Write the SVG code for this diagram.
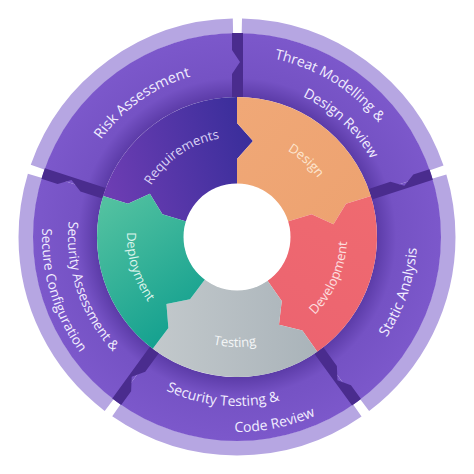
<svg xmlns="http://www.w3.org/2000/svg" width="474" height="474" viewBox="0 0 474 474">
<style>
.outer{fill:url(#gPurple)}
.div{fill:#4a2c8e}
.tout{font-family:'Open Sans','Noto Sans',sans-serif;font-size:14.5px;fill:#f2eeff}
.tin{font-family:'Open Sans','Noto Sans',sans-serif;font-size:13px}
</style>
<defs>
<radialGradient id="gPurple" gradientUnits="userSpaceOnUse" cx="237" cy="237" r="204">
<stop offset="0.68" stop-color="#5a3aa6"/>
<stop offset="0.78" stop-color="#7552c4"/>
<stop offset="1" stop-color="#7c58cb"/>
</radialGradient>
<linearGradient id="gReq" gradientUnits="userSpaceOnUse" x1="105" y1="180" x2="250" y2="140">
<stop offset="0" stop-color="#6d3db3"/>
<stop offset="1" stop-color="#3a2e9b"/>
</linearGradient>
<linearGradient id="gDes" gradientUnits="userSpaceOnUse" x1="240" y1="100" x2="370" y2="220">
<stop offset="0" stop-color="#f0a877"/>
<stop offset="1" stop-color="#eda270"/>
</linearGradient>
<linearGradient id="gDev" gradientUnits="userSpaceOnUse" x1="370" y1="200" x2="290" y2="340">
<stop offset="0" stop-color="#ef6a70"/>
<stop offset="1" stop-color="#ec6470"/>
</linearGradient>
<linearGradient id="gTest" gradientUnits="userSpaceOnUse" x1="150" y1="300" x2="320" y2="300">
<stop offset="0" stop-color="#c3c9cc"/>
<stop offset="1" stop-color="#a9b3b9"/>
</linearGradient>
<linearGradient id="gDep" gradientUnits="userSpaceOnUse" x1="110" y1="200" x2="200" y2="320">
<stop offset="0" stop-color="#52c1a0"/>
<stop offset="1" stop-color="#13a08f"/>
</linearGradient>
<path id="c167" d="M 237 404 A 167 167 0 1 1 237 70 A 167 167 0 1 1 237 404"/>
<path id="c182" d="M 237 419 A 182 182 0 1 1 237 55 A 182 182 0 1 1 237 419"/>
<path id="c155" d="M 237 392 A 155 155 0 1 1 237 82 A 155 155 0 1 1 237 392"/>
<path id="c100" d="M 237 337 A 100 100 0 1 1 237 137 A 100 100 0 1 1 237 337"/>
<path id="a180" d="M 237 57 A 180 180 0 1 0 237 417 A 180 180 0 1 0 237 57"/>
<path id="a169" d="M 237 68 A 169 169 0 1 0 237 406 A 169 169 0 1 0 237 68"/>
<path id="a195" d="M 237 42 A 195 195 0 1 0 237 432 A 195 195 0 1 0 237 42"/>
<path id="a110" d="M 237 127 A 110 110 0 1 0 237 347 A 110 110 0 1 0 237 127"/>
</defs>
<rect width="474" height="474" fill="#ffffff"/>
<g id="lavender-ring">
<circle cx="237" cy="237" r="211" fill="none" stroke="#b6a6e2" stroke-width="15" stroke-dasharray="256.15 9" stroke-dashoffset="61.79"/>
</g>
<g id="risk-assessment">
<path class="outer" d="M 42.98 173.96 A 204 204 0 0 1 237 33 L 237 97 A 140 140 0 0 0 103.85 193.74 Z"/>
<text class="tout" text-anchor="middle"><textPath href="#c167" startOffset="40.2%">Risk Assessment</textPath></text>
</g>
<g id="threat-modelling">
<path class="outer" d="M 237 33 A 204 204 0 0 1 431.02 173.96 L 370.15 193.74 A 140 140 0 0 0 237 97 Z"/>
<text class="tout" text-anchor="middle" style="font-size:14px"><textPath href="#c182" startOffset="58.75%">Threat Modelling &amp;</textPath></text>
<text class="tout" text-anchor="middle" style="font-size:14px"><textPath href="#c155" startOffset="61.8%">Design Review</textPath></text>
</g>
<g id="static-analysis">
<path class="outer" d="M 431.02 173.96 A 204 204 0 0 1 356.91 402.04 L 319.29 350.26 A 140 140 0 0 0 370.15 193.74 Z"/>
<text class="tout" text-anchor="middle"><textPath href="#a180" startOffset="69.8%">Static Analysis</textPath></text>
</g>
<g id="security-testing">
<path class="outer" d="M 356.91 402.04 A 204 204 0 0 1 117.09 402.04 L 154.71 350.26 A 140 140 0 0 0 319.29 350.26 Z"/>
<text class="tout" text-anchor="middle" style="font-size:14px"><textPath href="#a169" startOffset="48.6%">Security Testing &amp;</textPath></text>
<text class="tout" text-anchor="middle" style="font-size:14px"><textPath href="#a195" startOffset="53.2%">Code Review</textPath></text>
</g>
<g id="security-assessment">
<path class="outer" d="M 117.09 402.04 A 204 204 0 0 1 42.98 173.96 L 103.85 193.74 A 140 140 0 0 0 154.71 350.26 Z"/>
<text class="tout" text-anchor="middle" style="font-size:13.5px"><textPath href="#a169" startOffset="30.2%">Security Assessment &amp;</textPath></text>
<text class="tout" text-anchor="middle" style="font-size:13.5px"><textPath href="#a195" startOffset="29.7%">Secure Configuration</textPath></text>
</g>
<g id="dividers">
<polygon class="div" points="232,97 232,74 240,62 232,50 232,33 243,33 243,97"/>
<polygon class="div" points="368.60,188.98 390.48,181.87 404.37,185.77 413.31,174.46 429.47,169.20 432.87,179.67 372.00,199.45"/>
<polygon class="div" points="323.34,347.32 336.86,365.93 337.44,380.34 350.97,385.34 360.96,399.10 352.06,405.57 314.44,353.79"/>
<polygon class="div" points="158.76,353.20 145.24,371.81 131.70,376.82 131.13,391.22 121.14,404.98 112.24,398.51 149.86,346.73"/>
<polygon class="div" points="102.30,198.50 80.42,191.39 71.49,180.07 57.59,183.98 41.43,178.72 44.83,168.25 105.70,188.03"/>
</g>
<g id="requirements">
<path fill="url(#gReq)" d="M 186.32 221.50 L 162.41 214.19 L 149.88 193.63 L 127.98 203.67 L 103.12 196.06 A 140 140 0 0 1 237 97 L 237 123 L 253 141 L 237 159 L 237 184 A 53 53 0 0 0 186.32 221.50 Z"/>
<text class="tin" text-anchor="middle" fill="#ddd4f6"><textPath href="#c100" startOffset="40.4%">Requirements</textPath></text>
</g>
<g id="design">
<path fill="url(#gDes)" d="M 237 184 L 237 159 L 253 141 L 237 123 L 237 97 A 140 140 0 0 1 370.88 196.06 L 346.02 203.67 L 333.48 224.23 L 311.59 214.19 L 287.68 221.50 A 53 53 0 0 0 237 184 Z"/>
<text class="tin" text-anchor="middle" fill="#fde5cf"><textPath href="#c100" startOffset="61.7%">Design</textPath></text>
</g>
<g id="development">
<path fill="url(#gDev)" d="M 287.68 221.50 L 311.59 214.19 L 333.48 224.23 L 346.02 203.67 L 370.88 196.06 A 140 140 0 0 1 317.30 351.69 L 302.39 330.39 L 278.96 324.82 L 281.74 300.90 L 267.40 280.42 A 53 53 0 0 0 287.68 221.50 Z"/>
<text class="tin" text-anchor="middle" fill="#fde0e1"><textPath href="#a110" startOffset="68.4%">Development</textPath></text>
</g>
<g id="testing">
<path fill="url(#gTest)" d="M 267.40 280.42 L 281.74 300.90 L 278.96 324.82 L 302.39 330.39 L 317.30 351.69 A 140 140 0 0 1 152.75 348.80 L 168.39 328.04 L 166.45 304.04 L 190.06 299.29 L 205.10 279.33 A 53 53 0 0 0 267.40 280.42 Z"/>
<text class="tin" text-anchor="middle" fill="#f4f6f7"><textPath href="#a110" startOffset="49.7%">Testing</textPath></text>
</g>
<g id="deployment">
<path fill="url(#gDep)" d="M 205.10 279.33 L 190.06 299.29 L 166.45 304.04 L 168.39 328.04 L 152.75 348.80 A 140 140 0 0 1 103.12 196.06 L 127.98 203.67 L 149.88 193.63 L 162.41 214.19 L 186.32 221.50 A 53 53 0 0 0 205.10 279.33 Z"/>
<text class="tin" text-anchor="middle" fill="#dcf4ec"><textPath href="#a110" startOffset="29.7%">Deployment</textPath></text>
</g>
<g id="center">
<circle cx="237" cy="237" r="53.5" fill="#ffffff"/>
</g>
</svg>
